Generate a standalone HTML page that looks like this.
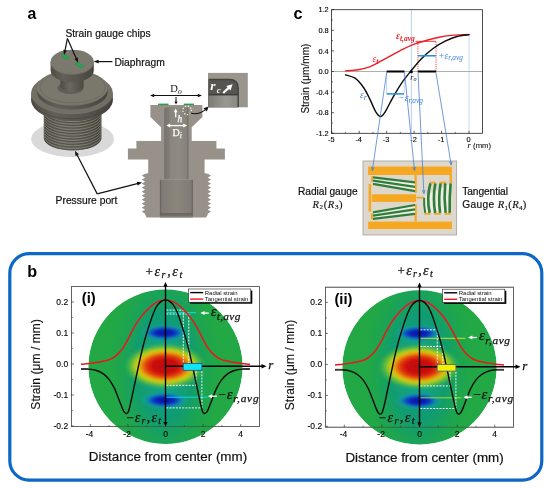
<!DOCTYPE html>
<html><head><meta charset="utf-8"><title>Figure</title>
<style>html,body{margin:0;padding:0;background:#fff}svg{display:block}</style>
</head><body>
<svg width="550" height="488" viewBox="0 0 550 488">
<rect width="550" height="488" fill="#fff"/>
<defs>
<linearGradient id="gSide" x1="0" x2="1" y1="0" y2="0">
<stop offset="0" stop-color="#504d47"/><stop offset="0.3" stop-color="#625f58"/><stop offset="0.65" stop-color="#57544e"/><stop offset="1" stop-color="#45433d"/>
</linearGradient>
<linearGradient id="gThread" x1="0" x2="1" y1="0" y2="0">
<stop offset="0" stop-color="#4f4c46"/><stop offset="0.3" stop-color="#6f6b62"/><stop offset="0.6" stop-color="#6a665d"/><stop offset="1" stop-color="#45433d"/>
</linearGradient>
<linearGradient id="gNeck" x1="0" x2="1" y1="0" y2="0">
<stop offset="0" stop-color="#4e4b45"/><stop offset="0.4" stop-color="#6b6860"/><stop offset="1" stop-color="#4c4943"/>
</linearGradient>
<linearGradient id="gBore" x1="0" x2="1" y1="0" y2="0">
<stop offset="0" stop-color="#6a665f"/><stop offset="0.05" stop-color="#7a756e"/><stop offset="0.2" stop-color="#807b74"/><stop offset="0.24" stop-color="#8a857d"/><stop offset="0.6" stop-color="#8f8a82"/><stop offset="0.92" stop-color="#87827a"/><stop offset="1" stop-color="#6a665f"/>
</linearGradient>
<linearGradient id="gBore2" x1="0" x2="1" y1="0" y2="0">
<stop offset="0" stop-color="#625e58"/><stop offset="0.06" stop-color="#807b74"/><stop offset="0.5" stop-color="#8a857d"/><stop offset="0.94" stop-color="#807b74"/><stop offset="1" stop-color="#625e58"/>
</linearGradient>
<linearGradient id="gInset" x1="0" x2="1" y1="0" y2="0">
<stop offset="0" stop-color="#7d7b76"/><stop offset="0.6" stop-color="#9a9893"/><stop offset="1" stop-color="#8a8883"/>
</linearGradient>
</defs>
<g id="panel-a">
<ellipse cx="72.6" cy="139" rx="41.5" ry="18" fill="#d9d9d9"/>
<path d="M44 108 L44 138.3 A28.6 12.2 0 0 0 101.2 138.3 L101.2 108 Z" fill="url(#gThread)"/>
<path d="M44 109.4 A28.6 12.2 0 0 0 101.2 109.4" fill="none" stroke="#8b877b" stroke-width="0.9" opacity="0.85"/>
<path d="M44 110.5 A28.6 12.2 0 0 0 101.2 110.5" fill="none" stroke="#3f3d38" stroke-width="0.8" opacity="0.7"/>
<path d="M44 112.1 A28.6 12.2 0 0 0 101.2 112.1" fill="none" stroke="#8b877b" stroke-width="0.9" opacity="0.85"/>
<path d="M44 113.2 A28.6 12.2 0 0 0 101.2 113.2" fill="none" stroke="#3f3d38" stroke-width="0.8" opacity="0.7"/>
<path d="M44 114.8 A28.6 12.2 0 0 0 101.2 114.8" fill="none" stroke="#8b877b" stroke-width="0.9" opacity="0.85"/>
<path d="M44 115.9 A28.6 12.2 0 0 0 101.2 115.9" fill="none" stroke="#3f3d38" stroke-width="0.8" opacity="0.7"/>
<path d="M44 117.5 A28.6 12.2 0 0 0 101.2 117.5" fill="none" stroke="#8b877b" stroke-width="0.9" opacity="0.85"/>
<path d="M44 118.6 A28.6 12.2 0 0 0 101.2 118.6" fill="none" stroke="#3f3d38" stroke-width="0.8" opacity="0.7"/>
<path d="M44 120.2 A28.6 12.2 0 0 0 101.2 120.2" fill="none" stroke="#8b877b" stroke-width="0.9" opacity="0.85"/>
<path d="M44 121.3 A28.6 12.2 0 0 0 101.2 121.3" fill="none" stroke="#3f3d38" stroke-width="0.8" opacity="0.7"/>
<path d="M44 122.9 A28.6 12.2 0 0 0 101.2 122.9" fill="none" stroke="#8b877b" stroke-width="0.9" opacity="0.85"/>
<path d="M44 124 A28.6 12.2 0 0 0 101.2 124" fill="none" stroke="#3f3d38" stroke-width="0.8" opacity="0.7"/>
<path d="M44 125.6 A28.6 12.2 0 0 0 101.2 125.6" fill="none" stroke="#8b877b" stroke-width="0.9" opacity="0.85"/>
<path d="M44 126.7 A28.6 12.2 0 0 0 101.2 126.7" fill="none" stroke="#3f3d38" stroke-width="0.8" opacity="0.7"/>
<path d="M44 128.3 A28.6 12.2 0 0 0 101.2 128.3" fill="none" stroke="#8b877b" stroke-width="0.9" opacity="0.85"/>
<path d="M44 129.4 A28.6 12.2 0 0 0 101.2 129.4" fill="none" stroke="#3f3d38" stroke-width="0.8" opacity="0.7"/>
<path d="M44 131 A28.6 12.2 0 0 0 101.2 131" fill="none" stroke="#8b877b" stroke-width="0.9" opacity="0.85"/>
<path d="M44 132.1 A28.6 12.2 0 0 0 101.2 132.1" fill="none" stroke="#3f3d38" stroke-width="0.8" opacity="0.7"/>
<path d="M44 133.7 A28.6 12.2 0 0 0 101.2 133.7" fill="none" stroke="#8b877b" stroke-width="0.9" opacity="0.85"/>
<path d="M44 134.8 A28.6 12.2 0 0 0 101.2 134.8" fill="none" stroke="#3f3d38" stroke-width="0.8" opacity="0.7"/>
<path d="M44 136.4 A28.6 12.2 0 0 0 101.2 136.4" fill="none" stroke="#8b877b" stroke-width="0.9" opacity="0.85"/>
<path d="M44 137.5 A28.6 12.2 0 0 0 101.2 137.5" fill="none" stroke="#3f3d38" stroke-width="0.8" opacity="0.7"/>
<ellipse cx="72.6" cy="104" rx="33" ry="17" fill="#3b3934" opacity="0.55"/>
<path d="M31.2 92.8 L31.2 100.5 A40.8 20.5 0 0 0 112.8 100.5 L112.8 92.8 Z" fill="url(#gSide)"/><ellipse cx="72" cy="92.8" rx="40.8" ry="20.5" fill="#716e65" />
<path d="M31.2 98.3 A40.8 20.5 0 0 0 112.8 98.3" fill="none" stroke="#3e3c37" stroke-width="0.8" opacity="0.6"/>
<path d="M31.2 93.2 A40.8 20.5 0 0 0 112.8 93.2" fill="none" stroke="#8a867b" stroke-width="0.7" opacity="0.8"/>
<path d="M37.1 87.5 L37.1 92.4 A35.2 17.2 0 0 0 107.5 92.4 L107.5 87.5 Z" fill="url(#gSide)"/><ellipse cx="72.3" cy="87.5" rx="35.2" ry="17.2" fill="#7a776d" />
<path d="M37.1 87.9 A35.2 17.2 0 0 0 107.5 87.9" fill="none" stroke="#8e8a7f" stroke-width="0.7" opacity="0.8"/>
<ellipse cx="72.6" cy="87.2" rx="32.6" ry="15.6" fill="none" stroke="#69665d" stroke-width="0.7"/>
<ellipse cx="70.6" cy="88" rx="13" ry="6" fill="#4a4843" opacity="0.55"/>
<path d="M60.4 76 L60.4 86.6 A11.6 5.2 0 0 0 83.6 86.6 L83.6 76 Z" fill="url(#gNeck)"/>
<path d="M50.6 61.7 L50.6 70.3 A21.6 12 0 0 0 93.8 70.3 L93.8 61.7 Z" fill="url(#gSide)"/><ellipse cx="72.2" cy="61.7" rx="21.6" ry="12" fill="#7b786e" />
<path d="M50.6 62.2 A21.6 12 0 0 0 93.8 62.2" fill="none" stroke="#8d897e" stroke-width="0.7" opacity="0.8"/>
<polygon points="61,55.3 63.2,53.7 69.3,57.6 67.1,59.4" fill="#1fae4e" stroke="#168a3c" stroke-width="0.4"/>
<polygon points="75.2,63.9 77.5,62.3 84.1,66.2 81.8,67.9" fill="#1fae4e" stroke="#168a3c" stroke-width="0.4"/>
<polygon points="202.4,105.1 202.4,117 191.7,127.3 191.7,140.9 216.4,140.9 216.4,148.5 224.9,148.5 224.9,159.5 204.6,159.5 204.6,173.2 207.7,173.8 211,175.48 207.7,177.8 211,179.48 207.7,181.8 211,183.48 207.7,185.8 211,187.48 207.7,189.8 211,191.48 207.7,193.8 211,195.48 207.7,197.8 211,199.48 207.7,201.8 211,203.48 207.7,205.8 211,207.48 207.7,209.8 211,211.48 207.7,213.8 207.7,214.5 206.2,217.5 146.6,217.5 145.1,214.5 145.1,213.8 141.8,211.48 145.1,209.8 141.8,207.48 145.1,205.8 141.8,203.48 145.1,201.8 141.8,199.48 145.1,197.8 141.8,195.48 145.1,193.8 141.8,191.48 145.1,189.8 141.8,187.48 145.1,185.8 141.8,183.48 145.1,181.8 141.8,179.48 145.1,177.8 141.8,175.48 145.1,173.8 148.2,173.2 148.2,159.5 127.9,159.5 127.9,148.5 136.4,148.5 136.4,140.9 161.1,140.9 161.1,127.3 150.4,117 150.4,105.1" fill="#979189"/>
<rect x="136.4" y="140.9" width="80" height="0.6" fill="#a09e98" opacity="0.6"/>
<path d="M164.4 179.2 L164.4 109.4 Q164.4 107.2 166.6 107.2 L186.2 107.2 Q188.4 107.2 188.4 109.4 L188.4 179.2 Z" fill="url(#gBore)"/>
<rect x="159.9" y="179.2" width="33" height="36.6" fill="url(#gBore2)"/>
<rect x="159.9" y="179.2" width="33" height="0.9" fill="#a8a39b" opacity="0.6"/>
<rect x="159.9" y="213" width="33" height="2.8" fill="#625e58" opacity="0.7"/>
<rect x="159.9" y="215.8" width="33" height="1.7" fill="#827d75"/>
<rect x="158.1" y="103.6" width="10.4" height="1.6" fill="#2b9a50"/>
<rect x="183.7" y="103.6" width="10.2" height="1.6" fill="#2b9a50"/>
<line x1="153.36" y1="95.5" x2="198.64" y2="95.5" stroke="#111" stroke-width="1.1"/><polygon points="202,95.5 197.8,97.3 197.8,93.7" fill="#111"/><polygon points="150,95.5 154.2,97.3 154.2,93.7" fill="#111"/>
<text x="170.3" y="92.3" font-family="Liberation Serif, serif" font-size="10.5" fill="#111">D<tspan font-size="7.5" dy="2" font-style="italic">o</tspan></text>
<line x1="176" y1="97" x2="176" y2="102.04" stroke="#111" stroke-width="1"/><polygon points="176,104.6 174.4,101.4 177.6,101.4" fill="#111"/>
<line x1="175.7" y1="117.2" x2="175.7" y2="111.44" stroke="#fff" stroke-width="1.3"/><polygon points="175.7,108.4 177.6,112.2 173.8,112.2" fill="#fff"/>
<text x="177.4" y="122.3" font-family="Liberation Serif, serif" font-size="9.5" font-style="italic" fill="#fff" stroke="#fff" stroke-width="0.25">h</text>
<line x1="169.4" y1="125.6" x2="184" y2="125.6" stroke="#fff" stroke-width="1.3"/><polygon points="187.2,125.6 183.2,127.6 183.2,123.6" fill="#fff"/><polygon points="166.2,125.6 170.2,127.6 170.2,123.6" fill="#fff"/>
<text x="172.4" y="135.6" font-family="Liberation Serif, serif" font-size="10" fill="#fff" stroke="#fff" stroke-width="0.25">D<tspan font-size="7.5" dy="2" font-style="italic">i</tspan></text>
<circle cx="187.1" cy="110.3" r="4.3" fill="none" stroke="#fff" stroke-width="1.35" stroke-linecap="round" stroke-dasharray="0.1 2.9"/>
<path d="M190.5 113 Q198 115.5 205.5 109.6" fill="none" stroke="#111" stroke-width="1.1"/>
<polygon points="208.6,106.6 206.9,111.6 203.4,108.2" fill="#111"/>
<rect x="208" y="72.9" width="39.8" height="34.4" fill="#9a958d"/>
<path d="M208.6 78.8 L229.4 78.8 Q238.9 78.8 238.9 88.4 L238.9 107.3 L208.6 107.3 Z" fill="#42413e"/>
<path d="M208.6 80.2 L229.2 80.2 Q237.5 80.2 237.5 88.6 L237.5 94.6 L208.6 94.6 Z" fill="#575551"/>
<rect x="208.6" y="95" width="28.9" height="12.3" fill="url(#gInset)"/>
<rect x="208.6" y="94.2" width="29.2" height="1.2" fill="#3b3a37"/>
<text x="210.2" y="90" font-family="Liberation Serif, serif" font-size="13.5" font-style="italic" font-weight="bold" fill="#fff">r<tspan font-size="9" dy="2.6" dx="1.2">c</tspan></text>
<line x1="223.2" y1="93" x2="229.21" y2="87.37" stroke="#fff" stroke-width="2.2"/><polygon points="232.6,84.2 230.48,90.43 226.25,85.9" fill="#fff"/>
<text x="27.6" y="18.6" font-family="Liberation Sans, sans-serif" font-size="15.8" font-weight="bold" fill="#000">a</text>
<text x="65.4" y="36.7" font-family="Liberation Sans, sans-serif" font-size="10.2" fill="#111" stroke="#111" stroke-width="0.2" textLength="85.2" lengthAdjust="spacing">Strain gauge chips</text>
<text x="114.4" y="65.6" font-family="Liberation Sans, sans-serif" font-size="10.3" fill="#111" stroke="#111" stroke-width="0.2">Diaphragm</text>
<text x="55.6" y="203.5" font-family="Liberation Sans, sans-serif" font-size="10.3" fill="#111" stroke="#111" stroke-width="0.2">Pressure port</text>
<line x1="67.4" y1="38.5" x2="64.88" y2="51.18" stroke="#111" stroke-width="1.2"/><polygon points="64.1,55.1 63.31,49.85 66.84,50.55" fill="#111"/>
<line x1="67.4" y1="38.5" x2="76.58" y2="59.14" stroke="#111" stroke-width="1.2"/><polygon points="78.2,62.8 74.52,58.96 77.81,57.5" fill="#111"/>
<line x1="112.4" y1="61.6" x2="97.6" y2="61.6" stroke="#111" stroke-width="1.2"/><polygon points="93.6,61.6 98.6,59.7 98.6,63.5" fill="#111"/>
<line x1="97.2" y1="193.9" x2="76.73" y2="154.25" stroke="#111" stroke-width="1.2"/><polygon points="74.9,150.7 78.88,154.27 75.51,156.01" fill="#111"/>
<line x1="97.2" y1="193.9" x2="138.23" y2="183.39" stroke="#111" stroke-width="1.2"/><polygon points="142.1,182.4 137.73,185.48 136.78,181.8" fill="#111"/>
</g>
<g id="panel-c">
<line x1="411.36" y1="9.7" x2="411.36" y2="133.3" stroke="#aecdf2" stroke-width="0.9"/>
<line x1="469" y1="34.42" x2="469" y2="133.3" stroke="#b8d3f3" stroke-width="0.8"/>
<line x1="331.5" y1="71.5" x2="482.5" y2="71.5" stroke="#9a9a9a" stroke-width="0.8"/>
<rect x="331.5" y="9.7" width="151" height="123.6" fill="none" stroke="#222" stroke-width="0.8"/>
<line x1="331.5" y1="9.7" x2="334" y2="9.7" stroke="#222" stroke-width="0.7"/>
<text x="328.7" y="12.3" font-family="Liberation Sans, sans-serif" font-size="7.4" text-anchor="end" fill="#000" stroke="#000" stroke-width="0.12">1.2</text>
<line x1="331.5" y1="20" x2="333" y2="20" stroke="#222" stroke-width="0.6"/>
<line x1="331.5" y1="30.3" x2="334" y2="30.3" stroke="#222" stroke-width="0.7"/>
<text x="328.7" y="32.9" font-family="Liberation Sans, sans-serif" font-size="7.4" text-anchor="end" fill="#000" stroke="#000" stroke-width="0.12">0.8</text>
<line x1="331.5" y1="40.6" x2="333" y2="40.6" stroke="#222" stroke-width="0.6"/>
<line x1="331.5" y1="50.9" x2="334" y2="50.9" stroke="#222" stroke-width="0.7"/>
<text x="328.7" y="53.5" font-family="Liberation Sans, sans-serif" font-size="7.4" text-anchor="end" fill="#000" stroke="#000" stroke-width="0.12">0.4</text>
<line x1="331.5" y1="61.2" x2="333" y2="61.2" stroke="#222" stroke-width="0.6"/>
<line x1="331.5" y1="71.5" x2="334" y2="71.5" stroke="#222" stroke-width="0.7"/>
<text x="328.7" y="74.1" font-family="Liberation Sans, sans-serif" font-size="7.4" text-anchor="end" fill="#000" stroke="#000" stroke-width="0.12">0.0</text>
<line x1="331.5" y1="81.8" x2="333" y2="81.8" stroke="#222" stroke-width="0.6"/>
<line x1="331.5" y1="92.1" x2="334" y2="92.1" stroke="#222" stroke-width="0.7"/>
<text x="328.7" y="94.7" font-family="Liberation Sans, sans-serif" font-size="7.4" text-anchor="end" fill="#000" stroke="#000" stroke-width="0.12">-0.4</text>
<line x1="331.5" y1="102.4" x2="333" y2="102.4" stroke="#222" stroke-width="0.6"/>
<line x1="331.5" y1="112.7" x2="334" y2="112.7" stroke="#222" stroke-width="0.7"/>
<text x="328.7" y="115.3" font-family="Liberation Sans, sans-serif" font-size="7.4" text-anchor="end" fill="#000" stroke="#000" stroke-width="0.12">-0.8</text>
<line x1="331.5" y1="123" x2="333" y2="123" stroke="#222" stroke-width="0.6"/>
<line x1="331.5" y1="133.3" x2="334" y2="133.3" stroke="#222" stroke-width="0.7"/>
<text x="328.7" y="135.9" font-family="Liberation Sans, sans-serif" font-size="7.4" text-anchor="end" fill="#000" stroke="#000" stroke-width="0.12">-1.2</text>
<line x1="331.75" y1="133.3" x2="331.75" y2="130.8" stroke="#222" stroke-width="0.7"/>
<text x="331.25" y="141.5" font-family="Liberation Sans, sans-serif" font-size="7.4" text-anchor="middle" fill="#000" stroke="#000" stroke-width="0.12">-5</text>
<line x1="345.48" y1="133.3" x2="345.48" y2="131.8" stroke="#222" stroke-width="0.6"/>
<line x1="359.2" y1="133.3" x2="359.2" y2="130.8" stroke="#222" stroke-width="0.7"/>
<text x="358.7" y="141.5" font-family="Liberation Sans, sans-serif" font-size="7.4" text-anchor="middle" fill="#000" stroke="#000" stroke-width="0.12">-4</text>
<line x1="372.93" y1="133.3" x2="372.93" y2="131.8" stroke="#222" stroke-width="0.6"/>
<line x1="386.65" y1="133.3" x2="386.65" y2="130.8" stroke="#222" stroke-width="0.7"/>
<text x="386.15" y="141.5" font-family="Liberation Sans, sans-serif" font-size="7.4" text-anchor="middle" fill="#000" stroke="#000" stroke-width="0.12">-3</text>
<line x1="400.38" y1="133.3" x2="400.38" y2="131.8" stroke="#222" stroke-width="0.6"/>
<line x1="414.1" y1="133.3" x2="414.1" y2="130.8" stroke="#222" stroke-width="0.7"/>
<text x="413.6" y="141.5" font-family="Liberation Sans, sans-serif" font-size="7.4" text-anchor="middle" fill="#000" stroke="#000" stroke-width="0.12">-2</text>
<line x1="427.82" y1="133.3" x2="427.82" y2="131.8" stroke="#222" stroke-width="0.6"/>
<line x1="441.55" y1="133.3" x2="441.55" y2="130.8" stroke="#222" stroke-width="0.7"/>
<text x="441.05" y="141.5" font-family="Liberation Sans, sans-serif" font-size="7.4" text-anchor="middle" fill="#000" stroke="#000" stroke-width="0.12">-1</text>
<line x1="455.27" y1="133.3" x2="455.27" y2="131.8" stroke="#222" stroke-width="0.6"/>
<line x1="469" y1="133.3" x2="469" y2="130.8" stroke="#222" stroke-width="0.7"/>
<text x="468.5" y="141.5" font-family="Liberation Sans, sans-serif" font-size="7.4" text-anchor="middle" fill="#000" stroke="#000" stroke-width="0.12">0</text>
<text transform="translate(309.3,113.6) rotate(-90)" font-family="Liberation Sans, sans-serif" font-size="10" fill="#111" stroke="#111" stroke-width="0.15" textLength="70" lengthAdjust="spacing">Strain (μm/mm)</text>
<text x="467.6" y="148.3" font-family="Liberation Sans, sans-serif" font-size="7.7" fill="#111" stroke="#111" stroke-width="0.1"><tspan font-family="Liberation Serif, serif" font-style="italic" font-size="8.6">r</tspan> (mm)</text>
<line x1="386.65" y1="71.5" x2="386.65" y2="93.64" stroke="#9cc4ee" stroke-width="0.7"/>
<line x1="404.22" y1="71.5" x2="404.22" y2="93.64" stroke="#9cc4ee" stroke-width="0.7"/>
<line x1="417.94" y1="71.5" x2="417.94" y2="41.37" stroke="#f02020" stroke-width="0.9" stroke-dasharray="1.1 1.1"/>
<line x1="436.06" y1="71.5" x2="436.06" y2="41.37" stroke="#f02020" stroke-width="0.9" stroke-dasharray="1.1 1.1"/>
<line x1="415.47" y1="41.37" x2="436.06" y2="41.37" stroke="#f03030" stroke-width="0.9"/>
<path d="M345.48 70.88 C347.58 70.68 353.98 70.4 358.1 69.7 C362.22 68.99 366.7 67.9 370.18 66.66 C373.66 65.41 375.49 64.08 378.96 62.23 C382.44 60.38 387.02 57.72 391.04 55.53 C395.07 53.35 399.14 51.03 403.12 49.1 C407.1 47.17 410.94 45.42 414.92 43.95 C418.9 42.48 422.98 41.41 427 40.29 C431.03 39.18 434.6 38.11 439.08 37.25 C443.56 36.39 448.92 35.6 453.9 35.14 C458.89 34.69 466.48 34.63 469 34.52" fill="none" stroke="#ee1c24" stroke-width="1.4" stroke-linecap="round"/>
<path d="M345.48 74.85 C347.08 75.41 352.02 76.01 355.08 78.19 C358.15 80.38 361.35 84.38 363.87 87.98 C366.38 91.59 368.17 95.79 370.18 99.83 C372.19 103.86 374.21 109.39 375.94 112.19 C377.68 114.98 379.1 116.61 380.61 116.61 C382.12 116.61 383.04 115.24 385 112.19 C386.97 109.13 389.67 103.09 392.41 98.28 C395.16 93.47 398.45 87.81 401.47 83.34 C404.49 78.88 407.28 75.53 410.53 71.5 C413.78 67.47 417.21 62.98 420.96 59.14 C424.71 55.3 429.01 51.48 433.04 48.48 C437.07 45.48 441.14 43.11 445.12 41.12 C449.1 39.12 452.94 37.55 456.92 36.48 C460.9 35.41 466.99 34.98 469 34.68" fill="none" stroke="#0a0a0a" stroke-width="1.4" stroke-linecap="round"/>
<line x1="386.65" y1="71.5" x2="404.49" y2="71.5" stroke="#000" stroke-width="2"/>
<line x1="417.94" y1="71.5" x2="436.06" y2="71.5" stroke="#000" stroke-width="2"/>
<circle cx="411.36" cy="71.7" r="1.5" fill="#000"/>
<text x="410.2" y="79.6" font-family="Liberation Serif, serif" font-size="8.5" font-style="italic" fill="#111">r<tspan font-size="6" dy="1.5">o</tspan></text>
<line x1="386.65" y1="93.9" x2="403.94" y2="93.9" stroke="#1f8fdc" stroke-width="1.5"/>
<line x1="417.94" y1="55.79" x2="436.06" y2="55.79" stroke="#1f8fdc" stroke-width="1.5"/>
<text x="372.4" y="62" font-family="Liberation Serif, serif" font-size="9.5" font-style="italic" fill="#ee1c24">ε<tspan font-size="8" dy="1.8" font-weight="bold">t</tspan></text>
<text x="360" y="98" font-family="Liberation Serif, serif" font-size="9.5" font-style="italic" fill="#3a86d8">ε<tspan font-size="8" dy="1.8">r</tspan></text>
<text x="396" y="39.4" font-family="Liberation Serif, serif" font-size="9.5" font-style="italic" font-weight="bold" fill="#ee1c24">ε<tspan font-size="7.6" dy="1.8">t,avg</tspan></text>
<text x="438.2" y="58.6" font-family="Liberation Serif, serif" font-size="9.5" font-style="italic" fill="#3a86d8">+ε<tspan font-size="7.4" dy="1.8">r,avg</tspan></text>
<text x="398.3" y="101.4" font-family="Liberation Serif, serif" font-size="9.5" font-style="italic" fill="#3a86d8">−ε<tspan font-size="7.4" dy="1.8">r,avg</tspan></text>
<rect x="363" y="161" width="93.6" height="74" fill="#ddd8cb" stroke="#a9a9a4" stroke-width="0.9"/>
<rect x="368.1" y="166.5" width="83.8" height="8.5" fill="#f6a823"/>
<rect x="368.11" y="221.57" width="83.79" height="7.42" fill="#f6a823"/>
<rect x="371.82" y="194.29" width="44.29" height="7.64" fill="#f6a823"/>
<rect x="370.95" y="176.18" width="2.4" height="5.67" fill="#f6a823"/>
<rect x="368.55" y="183.82" width="2.62" height="27.71" fill="#f6a823"/>
<rect x="370.95" y="213.28" width="2.4" height="6.11" fill="#f6a823"/>
<rect x="414.59" y="174" width="2.18" height="18.77" fill="#f6a823"/>
<rect x="414.59" y="204.11" width="2.18" height="17.46" fill="#f6a823"/>
<rect x="416.5" y="196.7" width="8" height="1.8" fill="#f6a823"/>
<polygon points="373.0,176.6 415.0,181.4 415.0,192 373.0,184.6" fill="#efece3"/>
<polygon points="373.0,219.6 415.0,214.8 415.0,204.2 373.0,211.6" fill="#efece3"/>
<line x1="373" y1="177.4" x2="415" y2="182.3" stroke="#2e7d3a" stroke-width="2.2"/>
<line x1="373" y1="218.8" x2="415" y2="213.9" stroke="#2e7d3a" stroke-width="2.2"/>
<line x1="373" y1="180.6" x2="415" y2="186.8" stroke="#2e7d3a" stroke-width="2.2"/>
<line x1="373" y1="215.6" x2="415" y2="209.4" stroke="#2e7d3a" stroke-width="2.2"/>
<line x1="373" y1="183.8" x2="415" y2="191.2" stroke="#2e7d3a" stroke-width="2.2"/>
<line x1="373" y1="212.4" x2="415" y2="205" stroke="#2e7d3a" stroke-width="2.2"/>
<path d="M423.2 197 L451 183.2 L451 213 L424.6 213 Z" fill="#efece3"/>
<rect x="429.6" y="181.6" width="6.3" height="1.9" fill="#f6a823"/>
<rect x="439.4" y="181.6" width="6.9" height="1.9" fill="#f6a823"/>
<rect x="424.4" y="212.9" width="6" height="1.9" fill="#f6a823"/>
<rect x="434.5" y="212.9" width="6.3" height="1.9" fill="#f6a823"/>
<rect x="444.9" y="212.9" width="5.7" height="1.9" fill="#f6a823"/>
<rect x="449.6" y="175" width="2.3" height="8" fill="#f6a823"/>
<path d="M424.1 197.6 Q423.8 205 425.2 212.9" fill="none" stroke="#2e7d3a" stroke-width="2"/>
<path d="M429.7 212.9 Q426.35 198.2 430.4 183.4" fill="none" stroke="#2e7d3a" stroke-width="2.6"/>
<path d="M435.2 212.9 Q432.55 198.2 435.3 183.4" fill="none" stroke="#2e7d3a" stroke-width="2.6"/>
<path d="M440.1 212.9 Q438.05 198.2 440.6 183.4" fill="none" stroke="#2e7d3a" stroke-width="2.6"/>
<path d="M445.6 212.9 Q443.8 198.2 445.2 183.4" fill="none" stroke="#2e7d3a" stroke-width="2.6"/>
<path d="M449.7 212.9 Q449.25 198.2 450.6 183.4" fill="none" stroke="#2e7d3a" stroke-width="2.6"/>
<path d="M386.7 72.3 L372.3 170.6 M371.54 166.85 L372.3 170.6 L374.11 167.23" stroke="#4f7fd0" stroke-width="0.8" fill="none"/>
<path d="M404.5 72.3 L414.5 170.6 M412.84 167.15 L414.5 170.6 L415.43 166.89" stroke="#4f7fd0" stroke-width="0.8" fill="none"/>
<path d="M418 72.3 L423.9 193.6 M422.43 190.07 L423.9 193.6 L425.02 189.94" stroke="#4f7fd0" stroke-width="0.8" fill="none"/>
<path d="M435.9 72.3 L451.2 164.9 M449.33 161.56 L451.2 164.9 L451.9 161.14" stroke="#4f7fd0" stroke-width="0.8" fill="none"/>
<text x="293.5" y="18.5" font-family="Liberation Sans, sans-serif" font-size="16.2" font-weight="bold" fill="#000">c</text>
<text x="298" y="194.7" font-family="Liberation Sans, sans-serif" font-size="10.2" fill="#111" stroke="#111" stroke-width="0.2" textLength="59.6" lengthAdjust="spacing">Radial gauge</text>
<text x="312.5" y="207.5" font-family="Liberation Serif, serif" font-size="10.6" font-style="italic" fill="#111" stroke="#111" stroke-width="0.15" textLength="30" lengthAdjust="spacing">R<tspan font-size="7" dy="1.8" font-style="normal">2</tspan><tspan dy="-1.8" font-style="normal">(</tspan>R<tspan font-size="7" dy="1.8" font-style="normal">3</tspan><tspan dy="-1.8" font-style="normal">)</tspan></text>
<text x="462.3" y="194.7" font-family="Liberation Sans, sans-serif" font-size="10.2" fill="#111" stroke="#111" stroke-width="0.2" textLength="45.6" lengthAdjust="spacing">Tangential</text>
<text x="462.3" y="208" font-family="Liberation Sans, sans-serif" font-size="10.2" fill="#111" stroke="#111" stroke-width="0.18" textLength="64" lengthAdjust="spacing">Gauge <tspan font-family="Liberation Serif, serif" font-style="italic" font-size="10.6">R</tspan><tspan font-family="Liberation Serif, serif" font-size="7" dy="1.8">1</tspan><tspan font-family="Liberation Serif, serif" font-size="10.6" dy="-1.8">(</tspan><tspan font-family="Liberation Serif, serif" font-style="italic" font-size="10.6">R</tspan><tspan font-family="Liberation Serif, serif" font-size="7" dy="1.8">4</tspan><tspan font-family="Liberation Serif, serif" font-size="10.6" dy="-1.8">)</tspan></text>
</g>
<defs>
<radialGradient id="gHot" cx="0.5" cy="0.5" r="0.5">
<stop offset="0" stop-color="#b80c0c"/>
<stop offset="0.3" stop-color="#cc1008"/>
<stop offset="0.45" stop-color="#e03808"/>
<stop offset="0.55" stop-color="#e88010"/>
<stop offset="0.63" stop-color="#dcc010"/>
<stop offset="0.72" stop-color="#accc20"/>
<stop offset="0.86" stop-color="#58bc38" stop-opacity="0.65"/>
<stop offset="1" stop-color="#2aa652" stop-opacity="0"/>
</radialGradient>
<radialGradient id="gCold" cx="0.5" cy="0.5" r="0.5">
<stop offset="0" stop-color="#08129a"/>
<stop offset="0.33" stop-color="#0a20b6"/>
<stop offset="0.52" stop-color="#0c4cc4"/>
<stop offset="0.68" stop-color="#1088b4" stop-opacity="0.85"/>
<stop offset="0.84" stop-color="#12a098" stop-opacity="0.45"/>
<stop offset="1" stop-color="#2aa652" stop-opacity="0"/>
</radialGradient>
<radialGradient id="gTeal" cx="0.5" cy="0.5" r="0.5">
<stop offset="0" stop-color="#10a89a" stop-opacity="0.8"/>
<stop offset="0.6" stop-color="#14a88c" stop-opacity="0.5"/>
<stop offset="1" stop-color="#2aa652" stop-opacity="0"/>
</radialGradient>
<radialGradient id="gDisc" cx="0.5" cy="0.5" r="0.5">
<stop offset="0" stop-color="#0a9c92"/>
<stop offset="0.45" stop-color="#109c72"/>
<stop offset="1" stop-color="#24aa3c" stop-opacity="0"/>
</radialGradient>
<filter id="blur1" x="-20%" y="-20%" width="140%" height="140%"><feGaussianBlur stdDeviation="1.2"/></filter>
</defs>
<g id="panel-b">
<rect x="9.8" y="253.7" width="532" height="226.5" rx="19.5" ry="19.5" fill="#fff" stroke="#0d67c6" stroke-width="3.2"/>
<text x="27.2" y="277.2" font-family="Liberation Sans, sans-serif" font-size="16.2" font-weight="bold" fill="#000">b</text>
<g transform="translate(0,0.4)">
<clipPath id="clip1"><circle cx="165.5" cy="366.4" r="77.2"/></clipPath>
<rect x="71.4" y="286.2" width="188.1" height="140" fill="#fff" stroke="#777" stroke-width="0.8"/>
<g clip-path="url(#clip1)">
<circle cx="165.5" cy="366.4" r="77.2" fill="#22a844"/>
<ellipse cx="164.5" cy="366" rx="62" ry="120" fill="url(#gDisc)"/>
<g filter="url(#blur1)">
<ellipse cx="164.5" cy="366.7" rx="32" ry="42" fill="url(#gTeal)"/>
<ellipse cx="165" cy="365.7" rx="42" ry="23.5" fill="url(#gHot)"/>
<ellipse cx="164.5" cy="332.4" rx="25" ry="9" fill="url(#gCold)"/>
<ellipse cx="164.5" cy="399.9" rx="25" ry="9" fill="url(#gCold)"/>
</g>
</g>
<rect x="71.4" y="286.2" width="188.1" height="140" fill="none" stroke="#444" stroke-width="0.8" opacity="0.75"/>
<line x1="71.4" y1="301.6" x2="73.9" y2="301.6" stroke="#333" stroke-width="0.7"/>
<text x="68.2" y="304.4" font-family="Liberation Sans, sans-serif" font-size="8.5" text-anchor="end" fill="#000" stroke="#000" stroke-width="0.12">0.2</text>
<line x1="71.4" y1="332.6" x2="73.9" y2="332.6" stroke="#333" stroke-width="0.7"/>
<text x="68.2" y="335.4" font-family="Liberation Sans, sans-serif" font-size="8.5" text-anchor="end" fill="#000" stroke="#000" stroke-width="0.12">0.1</text>
<line x1="71.4" y1="363.6" x2="73.9" y2="363.6" stroke="#333" stroke-width="0.7"/>
<text x="68.2" y="366.4" font-family="Liberation Sans, sans-serif" font-size="8.5" text-anchor="end" fill="#000" stroke="#000" stroke-width="0.12">0.0</text>
<line x1="71.4" y1="394.6" x2="73.9" y2="394.6" stroke="#333" stroke-width="0.7"/>
<text x="68.2" y="397.4" font-family="Liberation Sans, sans-serif" font-size="8.5" text-anchor="end" fill="#000" stroke="#000" stroke-width="0.12">-0.1</text>
<line x1="71.4" y1="425.6" x2="73.9" y2="425.6" stroke="#333" stroke-width="0.7"/>
<text x="68.2" y="428.4" font-family="Liberation Sans, sans-serif" font-size="8.5" text-anchor="end" fill="#000" stroke="#000" stroke-width="0.12">-0.2</text>
<line x1="71.4" y1="317.1" x2="72.9" y2="317.1" stroke="#333" stroke-width="0.6"/>
<line x1="71.4" y1="348.1" x2="72.9" y2="348.1" stroke="#333" stroke-width="0.6"/>
<line x1="71.4" y1="379.1" x2="72.9" y2="379.1" stroke="#333" stroke-width="0.6"/>
<line x1="71.4" y1="410.1" x2="72.9" y2="410.1" stroke="#333" stroke-width="0.6"/>
<line x1="90.3" y1="426.2" x2="90.3" y2="423.7" stroke="#333" stroke-width="0.7"/>
<text x="89.5" y="436.2" font-family="Liberation Sans, sans-serif" font-size="8.5" text-anchor="middle" fill="#000" stroke="#000" stroke-width="0.12">-4</text>
<line x1="127.9" y1="426.2" x2="127.9" y2="423.7" stroke="#333" stroke-width="0.7"/>
<text x="127.1" y="436.2" font-family="Liberation Sans, sans-serif" font-size="8.5" text-anchor="middle" fill="#000" stroke="#000" stroke-width="0.12">-2</text>
<line x1="165.5" y1="426.2" x2="165.5" y2="423.7" stroke="#333" stroke-width="0.7"/>
<text x="165.5" y="436.2" font-family="Liberation Sans, sans-serif" font-size="8.5" text-anchor="middle" fill="#000" stroke="#000" stroke-width="0.12">0</text>
<line x1="203.1" y1="426.2" x2="203.1" y2="423.7" stroke="#333" stroke-width="0.7"/>
<text x="203.1" y="436.2" font-family="Liberation Sans, sans-serif" font-size="8.5" text-anchor="middle" fill="#000" stroke="#000" stroke-width="0.12">2</text>
<line x1="240.7" y1="426.2" x2="240.7" y2="423.7" stroke="#333" stroke-width="0.7"/>
<text x="240.7" y="436.2" font-family="Liberation Sans, sans-serif" font-size="8.5" text-anchor="middle" fill="#000" stroke="#000" stroke-width="0.12">4</text>
<line x1="109.1" y1="426.2" x2="109.1" y2="424.7" stroke="#333" stroke-width="0.6"/>
<line x1="146.7" y1="426.2" x2="146.7" y2="424.7" stroke="#333" stroke-width="0.6"/>
<line x1="184.3" y1="426.2" x2="184.3" y2="424.7" stroke="#333" stroke-width="0.6"/>
<line x1="221.9" y1="426.2" x2="221.9" y2="424.7" stroke="#333" stroke-width="0.6"/>
<path d="M166.3 309.7 H183.3 V363 M166.3 313.6 H188.8 V363" stroke="#fff" stroke-width="0.9" stroke-dasharray="2 1.2" fill="none"/>
<line x1="166.3" y1="312.3" x2="196" y2="312.3" stroke="#19e0ee" stroke-width="0.9"/>
<line x1="166.3" y1="396.8" x2="207.5" y2="396.8" stroke="#19d8ee" stroke-width="0.9"/>
<path d="M166.3 384.9 H196 V370 M166.3 407.5 H201.9 V370" stroke="#fff" stroke-width="0.9" stroke-dasharray="2 1.2" fill="none"/>
<path d="M81 363.9 C82.38 363.78 86.47 363.55 89.3 363.2 C92.13 362.85 95.18 362.3 98 361.8 C100.82 361.3 103.82 360.83 106.2 360.2 C108.58 359.57 110.25 359.2 112.3 358 C114.35 356.8 116.65 354.85 118.5 353 C120.35 351.15 121.87 349.15 123.4 346.9 C124.93 344.65 126.27 342.17 127.7 339.5 C129.13 336.83 130.47 333.77 132 330.9 C133.53 328.03 135.27 324.87 136.9 322.3 C138.53 319.73 140.17 317.55 141.8 315.5 C143.43 313.45 144.65 312.02 146.7 310 C148.75 307.98 151.9 304.98 154.1 303.4 C156.3 301.82 158 301.15 159.9 300.5 C161.8 299.85 163.63 299.5 165.5 299.5 C167.37 299.5 169.2 299.85 171.1 300.5 C173 301.15 174.7 301.82 176.9 303.4 C179.1 304.98 182.25 307.98 184.3 310 C186.35 312.02 187.57 313.45 189.2 315.5 C190.83 317.55 192.47 319.73 194.1 322.3 C195.73 324.87 197.47 328.03 199 330.9 C200.53 333.77 201.87 336.83 203.3 339.5 C204.73 342.17 206.07 344.65 207.6 346.9 C209.13 349.15 210.65 351.15 212.5 353 C214.35 354.85 216.65 356.8 218.7 358 C220.75 359.2 222.42 359.57 224.8 360.2 C227.18 360.83 230.18 361.3 233 361.8 C235.82 362.3 238.87 362.85 241.7 363.2 C244.53 363.55 248.62 363.78 250 363.9" fill="none" stroke="#f01418" stroke-width="1.5"/>
<path d="M81 368.7 C82.27 368.7 86.02 368.47 88.6 368.7 C91.18 368.93 93.98 369.27 96.5 370.1 C99.02 370.93 101.55 372.15 103.7 373.7 C105.85 375.25 107.6 377.02 109.4 379.4 C111.2 381.78 112.93 384.77 114.5 388 C116.07 391.23 117.48 395.45 118.8 398.8 C120.12 402.15 121.45 405.9 122.4 408.1 C123.35 410.3 123.8 411.17 124.5 412 C125.2 412.83 125.95 413.27 126.6 413.1 C127.25 412.93 127.8 412.43 128.4 411 C129 409.57 129.53 407.25 130.2 404.5 C130.87 401.75 131.55 398.45 132.4 394.5 C133.25 390.55 134.23 385.83 135.3 380.8 C136.37 375.77 137.73 369.2 138.8 364.3 C139.87 359.4 140.73 355.45 141.7 351.4 C142.67 347.35 143.8 342.97 144.6 340 C145.4 337.03 145.77 336 146.5 333.6 C147.23 331.2 148.1 328.38 149 325.6 C149.9 322.82 150.93 319.57 151.9 316.9 C152.87 314.23 153.83 311.67 154.8 309.6 C155.77 307.53 156.6 305.95 157.7 304.5 C158.8 303.05 160.1 301.73 161.4 300.9 C162.7 300.07 164.13 299.5 165.5 299.5 C166.87 299.5 168.3 300.07 169.6 300.9 C170.9 301.73 172.2 303.05 173.3 304.5 C174.4 305.95 175.23 307.53 176.2 309.6 C177.17 311.67 178.13 314.23 179.1 316.9 C180.07 319.57 181.1 322.82 182 325.6 C182.9 328.38 183.77 331.2 184.5 333.6 C185.23 336 185.6 337.03 186.4 340 C187.2 342.97 188.33 347.35 189.3 351.4 C190.27 355.45 191.13 359.4 192.2 364.3 C193.27 369.2 194.63 375.77 195.7 380.8 C196.77 385.83 197.75 390.55 198.6 394.5 C199.45 398.45 200.13 401.75 200.8 404.5 C201.47 407.25 202 409.57 202.6 411 C203.2 412.43 203.75 412.93 204.4 413.1 C205.05 413.27 205.8 412.83 206.5 412 C207.2 411.17 207.65 410.3 208.6 408.1 C209.55 405.9 210.88 402.15 212.2 398.8 C213.52 395.45 214.93 391.23 216.5 388 C218.07 384.77 219.8 381.78 221.6 379.4 C223.4 377.02 225.15 375.25 227.3 373.7 C229.45 372.15 231.98 370.93 234.5 370.1 C237.02 369.27 239.82 368.93 242.4 368.7 C244.98 368.47 248.73 368.7 250 368.7" fill="none" stroke="#080808" stroke-width="1.4"/>
<line x1="81" y1="368.7" x2="88.4" y2="368.7" stroke="#3a3a3a" stroke-width="1.7"/>
<line x1="242.6" y1="368.7" x2="250" y2="368.7" stroke="#3a3a3a" stroke-width="1.7"/>
<line x1="165.5" y1="299" x2="165.5" y2="285.28" stroke="#000" stroke-width="1.4"/><polygon points="165.5,281.6 167.6,286.2 163.4,286.2" fill="#000"/>
<line x1="165.5" y1="299" x2="165.5" y2="422.52" stroke="#000" stroke-width="1.4"/><polygon points="165.5,426.2 163.4,421.6 167.6,421.6" fill="#000"/>
<line x1="165.5" y1="365.8" x2="262.5" y2="365.8" stroke="#000" stroke-width="1.4"/><polygon points="266.5,365.8 261.5,368 261.5,363.6" fill="#000"/>
<rect x="183.2" y="363" width="18.7" height="6.9" fill="#0fe6f6" stroke="#1c4f9a" stroke-width="0.8"/>
<g transform="translate(0,-0.4)">
<rect x="190.1" y="290.5" width="62.2" height="13.2" fill="#000"/>
<rect x="188.6" y="289" width="62.2" height="13.2" fill="#fff" stroke="#222" stroke-width="0.6"/>
<line x1="190.2" y1="292.6" x2="203.2" y2="292.6" stroke="#000" stroke-width="1.4"/>
<line x1="190.2" y1="299.1" x2="203.2" y2="299.1" stroke="#f01418" stroke-width="1.4"/>
<text x="204.8" y="294.8" font-family="Liberation Sans, sans-serif" font-size="6" fill="#111" textLength="32.8" lengthAdjust="spacing">Radial strain</text>
<text x="204.8" y="301.3" font-family="Liberation Sans, sans-serif" font-size="6" fill="#111" textLength="43.6" lengthAdjust="spacing">Tangential strain</text>
</g>
<text x="268.3" y="369" font-family="Liberation Serif, serif" font-size="13" font-style="italic" fill="#111" stroke="#111" stroke-width="0.25">r</text>
<text x="81.8" y="302.4" font-family="Liberation Sans, sans-serif" font-size="14.8" font-weight="bold" fill="#000">(i)</text>
<text x="145.5" y="275.2" font-family="Liberation Serif, serif" font-size="14" font-style="italic" fill="#111" stroke="#111" stroke-width="0.25" textLength="36.7" lengthAdjust="spacing"><tspan font-style="normal" font-size="13">+</tspan>ε<tspan font-size="10" dy="2.2">r</tspan><tspan dy="-2.2">,ε</tspan><tspan font-size="10" dy="2.2">t</tspan></text>
<text x="126.3" y="421.5" font-family="Liberation Serif, serif" font-size="14" font-style="italic" fill="#111" stroke="#111" stroke-width="0.25" textLength="34.7" lengthAdjust="spacing"><tspan font-style="normal" font-size="13">−</tspan>ε<tspan font-size="10" dy="2.2">r</tspan><tspan dy="-2.2">,ε</tspan><tspan font-size="10" dy="2.2">t</tspan></text>
<line x1="208.8" y1="312.7" x2="203.76" y2="312.7" stroke="#fff" stroke-width="1.3"/><polygon points="200.4,312.7 204.6,310.7 204.6,314.7" fill="#fff"/>
<text x="210.7" y="315.9" font-family="Liberation Serif, serif" font-size="14.5" font-style="italic" fill="#111" stroke="#111" stroke-width="0.25" textLength="29.7" lengthAdjust="spacing">ε<tspan font-size="11.4" dy="3.3">t,avg</tspan></text>
<line x1="216.8" y1="395.8" x2="211.16" y2="395.8" stroke="#fff" stroke-width="1.3"/><polygon points="207.8,395.8 212,393.8 212,397.8" fill="#fff"/>
<text x="218.3" y="398.2" font-family="Liberation Serif, serif" font-size="14.5" font-style="italic" fill="#111" stroke="#111" stroke-width="0.25" textLength="40.3" lengthAdjust="spacing"><tspan font-style="normal" font-size="13.5">−</tspan>ε<tspan font-size="11.4" dy="3.3">r,avg</tspan></text>
<text transform="translate(39.8,364) rotate(-90)" font-family="Liberation Sans, sans-serif" font-size="12" text-anchor="middle" fill="#111" stroke="#111" stroke-width="0.15" textLength="90.6" lengthAdjust="spacing">Strain (μm / mm)</text>
<text x="88.8" y="460.2" font-family="Liberation Sans, sans-serif" font-size="13.4" fill="#111" stroke="#111" stroke-width="0.2" textLength="158.3" lengthAdjust="spacing">Distance from center (mm)</text>
</g>
<g transform="translate(0,1.0)">
<clipPath id="clip2"><circle cx="419.5" cy="366.4" r="77.2"/></clipPath>
<rect x="325.4" y="286.2" width="188.1" height="140" fill="#fff" stroke="#777" stroke-width="0.8"/>
<g clip-path="url(#clip2)">
<circle cx="419.5" cy="366.4" r="77.2" fill="#22a844"/>
<ellipse cx="418.5" cy="366" rx="62" ry="120" fill="url(#gDisc)"/>
<g filter="url(#blur1)">
<ellipse cx="418.5" cy="366.7" rx="32" ry="42" fill="url(#gTeal)"/>
<ellipse cx="419" cy="365.7" rx="42" ry="23.5" fill="url(#gHot)"/>
<ellipse cx="418.5" cy="332.4" rx="25" ry="9" fill="url(#gCold)"/>
<ellipse cx="418.5" cy="399.9" rx="25" ry="9" fill="url(#gCold)"/>
</g>
</g>
<rect x="325.4" y="286.2" width="188.1" height="140" fill="none" stroke="#444" stroke-width="0.8" opacity="0.75"/>
<line x1="325.4" y1="301.4" x2="327.9" y2="301.4" stroke="#333" stroke-width="0.7"/>
<text x="322.2" y="304.2" font-family="Liberation Sans, sans-serif" font-size="8.5" text-anchor="end" fill="#000" stroke="#000" stroke-width="0.12">0.2</text>
<line x1="325.4" y1="332.4" x2="327.9" y2="332.4" stroke="#333" stroke-width="0.7"/>
<text x="322.2" y="335.2" font-family="Liberation Sans, sans-serif" font-size="8.5" text-anchor="end" fill="#000" stroke="#000" stroke-width="0.12">0.1</text>
<line x1="325.4" y1="363.4" x2="327.9" y2="363.4" stroke="#333" stroke-width="0.7"/>
<text x="322.2" y="366.2" font-family="Liberation Sans, sans-serif" font-size="8.5" text-anchor="end" fill="#000" stroke="#000" stroke-width="0.12">0.0</text>
<line x1="325.4" y1="394.4" x2="327.9" y2="394.4" stroke="#333" stroke-width="0.7"/>
<text x="322.2" y="397.2" font-family="Liberation Sans, sans-serif" font-size="8.5" text-anchor="end" fill="#000" stroke="#000" stroke-width="0.12">-0.1</text>
<line x1="325.4" y1="425.4" x2="327.9" y2="425.4" stroke="#333" stroke-width="0.7"/>
<text x="322.2" y="428.2" font-family="Liberation Sans, sans-serif" font-size="8.5" text-anchor="end" fill="#000" stroke="#000" stroke-width="0.12">-0.2</text>
<line x1="325.4" y1="316.9" x2="326.9" y2="316.9" stroke="#333" stroke-width="0.6"/>
<line x1="325.4" y1="347.9" x2="326.9" y2="347.9" stroke="#333" stroke-width="0.6"/>
<line x1="325.4" y1="378.9" x2="326.9" y2="378.9" stroke="#333" stroke-width="0.6"/>
<line x1="325.4" y1="409.9" x2="326.9" y2="409.9" stroke="#333" stroke-width="0.6"/>
<line x1="344.3" y1="426.2" x2="344.3" y2="423.7" stroke="#333" stroke-width="0.7"/>
<text x="343.5" y="436.2" font-family="Liberation Sans, sans-serif" font-size="8.5" text-anchor="middle" fill="#000" stroke="#000" stroke-width="0.12">-4</text>
<line x1="381.9" y1="426.2" x2="381.9" y2="423.7" stroke="#333" stroke-width="0.7"/>
<text x="381.1" y="436.2" font-family="Liberation Sans, sans-serif" font-size="8.5" text-anchor="middle" fill="#000" stroke="#000" stroke-width="0.12">-2</text>
<line x1="419.5" y1="426.2" x2="419.5" y2="423.7" stroke="#333" stroke-width="0.7"/>
<text x="419.5" y="436.2" font-family="Liberation Sans, sans-serif" font-size="8.5" text-anchor="middle" fill="#000" stroke="#000" stroke-width="0.12">0</text>
<line x1="457.1" y1="426.2" x2="457.1" y2="423.7" stroke="#333" stroke-width="0.7"/>
<text x="457.1" y="436.2" font-family="Liberation Sans, sans-serif" font-size="8.5" text-anchor="middle" fill="#000" stroke="#000" stroke-width="0.12">2</text>
<line x1="494.7" y1="426.2" x2="494.7" y2="423.7" stroke="#333" stroke-width="0.7"/>
<text x="494.7" y="436.2" font-family="Liberation Sans, sans-serif" font-size="8.5" text-anchor="middle" fill="#000" stroke="#000" stroke-width="0.12">4</text>
<line x1="363.1" y1="426.2" x2="363.1" y2="424.7" stroke="#333" stroke-width="0.6"/>
<line x1="400.7" y1="426.2" x2="400.7" y2="424.7" stroke="#333" stroke-width="0.6"/>
<line x1="438.3" y1="426.2" x2="438.3" y2="424.7" stroke="#333" stroke-width="0.6"/>
<line x1="475.9" y1="426.2" x2="475.9" y2="424.7" stroke="#333" stroke-width="0.6"/>
<path d="M420.3 328.8 H437.3 V363 M420.3 345.5 H442.8 V363" stroke="#fff" stroke-width="0.9" stroke-dasharray="2 1.2" fill="none"/>
<line x1="420.3" y1="337.3" x2="465.5" y2="337.3" stroke="#d8e81e" stroke-width="0.9"/>
<line x1="420.3" y1="396.8" x2="461.5" y2="396.8" stroke="#b4e028" stroke-width="0.9"/>
<path d="M420.3 384.9 H450 V370 M420.3 407.5 H455.9 V370" stroke="#fff" stroke-width="0.9" stroke-dasharray="2 1.2" fill="none"/>
<path d="M335 363.9 C336.38 363.78 340.47 363.55 343.3 363.2 C346.13 362.85 349.18 362.3 352 361.8 C354.82 361.3 357.82 360.83 360.2 360.2 C362.58 359.57 364.25 359.2 366.3 358 C368.35 356.8 370.65 354.85 372.5 353 C374.35 351.15 375.87 349.15 377.4 346.9 C378.93 344.65 380.27 342.17 381.7 339.5 C383.13 336.83 384.47 333.77 386 330.9 C387.53 328.03 389.27 324.87 390.9 322.3 C392.53 319.73 394.17 317.55 395.8 315.5 C397.43 313.45 398.65 312.02 400.7 310 C402.75 307.98 405.9 304.98 408.1 303.4 C410.3 301.82 412 301.15 413.9 300.5 C415.8 299.85 417.63 299.5 419.5 299.5 C421.37 299.5 423.2 299.85 425.1 300.5 C427 301.15 428.7 301.82 430.9 303.4 C433.1 304.98 436.25 307.98 438.3 310 C440.35 312.02 441.57 313.45 443.2 315.5 C444.83 317.55 446.47 319.73 448.1 322.3 C449.73 324.87 451.47 328.03 453 330.9 C454.53 333.77 455.87 336.83 457.3 339.5 C458.73 342.17 460.07 344.65 461.6 346.9 C463.13 349.15 464.65 351.15 466.5 353 C468.35 354.85 470.65 356.8 472.7 358 C474.75 359.2 476.42 359.57 478.8 360.2 C481.18 360.83 484.18 361.3 487 361.8 C489.82 362.3 492.87 362.85 495.7 363.2 C498.53 363.55 502.62 363.78 504 363.9" fill="none" stroke="#f01418" stroke-width="1.5"/>
<path d="M335 368.7 C336.27 368.7 340.02 368.47 342.6 368.7 C345.18 368.93 347.98 369.27 350.5 370.1 C353.02 370.93 355.55 372.15 357.7 373.7 C359.85 375.25 361.6 377.02 363.4 379.4 C365.2 381.78 366.93 384.77 368.5 388 C370.07 391.23 371.48 395.45 372.8 398.8 C374.12 402.15 375.45 405.9 376.4 408.1 C377.35 410.3 377.8 411.17 378.5 412 C379.2 412.83 379.95 413.27 380.6 413.1 C381.25 412.93 381.8 412.43 382.4 411 C383 409.57 383.53 407.25 384.2 404.5 C384.87 401.75 385.55 398.45 386.4 394.5 C387.25 390.55 388.23 385.83 389.3 380.8 C390.37 375.77 391.73 369.2 392.8 364.3 C393.87 359.4 394.73 355.45 395.7 351.4 C396.67 347.35 397.8 342.97 398.6 340 C399.4 337.03 399.77 336 400.5 333.6 C401.23 331.2 402.1 328.38 403 325.6 C403.9 322.82 404.93 319.57 405.9 316.9 C406.87 314.23 407.83 311.67 408.8 309.6 C409.77 307.53 410.6 305.95 411.7 304.5 C412.8 303.05 414.1 301.73 415.4 300.9 C416.7 300.07 418.13 299.5 419.5 299.5 C420.87 299.5 422.3 300.07 423.6 300.9 C424.9 301.73 426.2 303.05 427.3 304.5 C428.4 305.95 429.23 307.53 430.2 309.6 C431.17 311.67 432.13 314.23 433.1 316.9 C434.07 319.57 435.1 322.82 436 325.6 C436.9 328.38 437.77 331.2 438.5 333.6 C439.23 336 439.6 337.03 440.4 340 C441.2 342.97 442.33 347.35 443.3 351.4 C444.27 355.45 445.13 359.4 446.2 364.3 C447.27 369.2 448.63 375.77 449.7 380.8 C450.77 385.83 451.75 390.55 452.6 394.5 C453.45 398.45 454.13 401.75 454.8 404.5 C455.47 407.25 456 409.57 456.6 411 C457.2 412.43 457.75 412.93 458.4 413.1 C459.05 413.27 459.8 412.83 460.5 412 C461.2 411.17 461.65 410.3 462.6 408.1 C463.55 405.9 464.88 402.15 466.2 398.8 C467.52 395.45 468.93 391.23 470.5 388 C472.07 384.77 473.8 381.78 475.6 379.4 C477.4 377.02 479.15 375.25 481.3 373.7 C483.45 372.15 485.98 370.93 488.5 370.1 C491.02 369.27 493.82 368.93 496.4 368.7 C498.98 368.47 502.73 368.7 504 368.7" fill="none" stroke="#080808" stroke-width="1.4"/>
<line x1="335" y1="368.7" x2="342.4" y2="368.7" stroke="#3a3a3a" stroke-width="1.7"/>
<line x1="496.6" y1="368.7" x2="504" y2="368.7" stroke="#3a3a3a" stroke-width="1.7"/>
<line x1="419.5" y1="299" x2="419.5" y2="285.28" stroke="#000" stroke-width="1.4"/><polygon points="419.5,281.6 421.6,286.2 417.4,286.2" fill="#000"/>
<line x1="419.5" y1="299" x2="419.5" y2="422.52" stroke="#000" stroke-width="1.4"/><polygon points="419.5,426.2 417.4,421.6 421.6,421.6" fill="#000"/>
<line x1="419.5" y1="365.8" x2="516.5" y2="365.8" stroke="#000" stroke-width="1.4"/><polygon points="520.5,365.8 515.5,368 515.5,363.6" fill="#000"/>
<rect x="437.2" y="363.4" width="18.7" height="6.7" fill="#f6f000" stroke="#3a6a8a" stroke-width="0.8"/>
<g transform="translate(0,-0.8)">
<rect x="444.1" y="290.5" width="62.2" height="13.2" fill="#000"/>
<rect x="442.6" y="289" width="62.2" height="13.2" fill="#fff" stroke="#222" stroke-width="0.6"/>
<line x1="444.2" y1="292.6" x2="457.2" y2="292.6" stroke="#000" stroke-width="1.4"/>
<line x1="444.2" y1="299.1" x2="457.2" y2="299.1" stroke="#f01418" stroke-width="1.4"/>
<text x="458.8" y="294.8" font-family="Liberation Sans, sans-serif" font-size="6" fill="#111" textLength="32.8" lengthAdjust="spacing">Radial strain</text>
<text x="458.8" y="301.3" font-family="Liberation Sans, sans-serif" font-size="6" fill="#111" textLength="43.6" lengthAdjust="spacing">Tangential strain</text>
</g>
<text x="522.3" y="369" font-family="Liberation Serif, serif" font-size="13" font-style="italic" fill="#111" stroke="#111" stroke-width="0.25">r</text>
<text x="334.4" y="302.8" font-family="Liberation Sans, sans-serif" font-size="14.8" font-weight="bold" fill="#000">(ii)</text>
<text x="397.6" y="274.2" font-family="Liberation Serif, serif" font-size="14" font-style="italic" fill="#111" stroke="#111" stroke-width="0.25" textLength="35.1" lengthAdjust="spacing"><tspan font-style="normal" font-size="13">+</tspan>ε<tspan font-size="10" dy="2.2">r</tspan><tspan dy="-2.2">,ε</tspan><tspan font-size="10" dy="2.2">t</tspan></text>
<text x="378.8" y="420.9" font-family="Liberation Serif, serif" font-size="14" font-style="italic" fill="#111" stroke="#111" stroke-width="0.25" textLength="35.7" lengthAdjust="spacing"><tspan font-style="normal" font-size="13">−</tspan>ε<tspan font-size="10" dy="2.2">r</tspan><tspan dy="-2.2">,ε</tspan><tspan font-size="10" dy="2.2">t</tspan></text>
<line x1="476.8" y1="336.5" x2="471.46" y2="336.5" stroke="#fff" stroke-width="1.3"/><polygon points="468.1,336.5 472.3,334.5 472.3,338.5" fill="#fff"/>
<text x="479" y="339.4" font-family="Liberation Serif, serif" font-size="14.5" font-style="italic" fill="#111" stroke="#111" stroke-width="0.25" textLength="31" lengthAdjust="spacing">ε<tspan font-size="11.4" dy="3.3">r,avg</tspan></text>
<line x1="471.7" y1="396.2" x2="466.76" y2="396.2" stroke="#fff" stroke-width="1.3"/><polygon points="463.4,396.2 467.6,394.2 467.6,398.2" fill="#fff"/>
<text x="473.2" y="397.6" font-family="Liberation Serif, serif" font-size="14.5" font-style="italic" fill="#111" stroke="#111" stroke-width="0.25" textLength="40" lengthAdjust="spacing"><tspan font-style="normal" font-size="13.5">−</tspan>ε<tspan font-size="11.4" dy="3.3">r,avg</tspan></text>
<text transform="translate(293.8,364) rotate(-90)" font-family="Liberation Sans, sans-serif" font-size="12" text-anchor="middle" fill="#111" stroke="#111" stroke-width="0.15" textLength="90.6" lengthAdjust="spacing">Strain (μm / mm)</text>
<text x="345.4" y="460.6" font-family="Liberation Sans, sans-serif" font-size="13.4" fill="#111" stroke="#111" stroke-width="0.2" textLength="158.3" lengthAdjust="spacing">Distance from center (mm)</text>
</g>
</g>
</svg>
</body></html>
